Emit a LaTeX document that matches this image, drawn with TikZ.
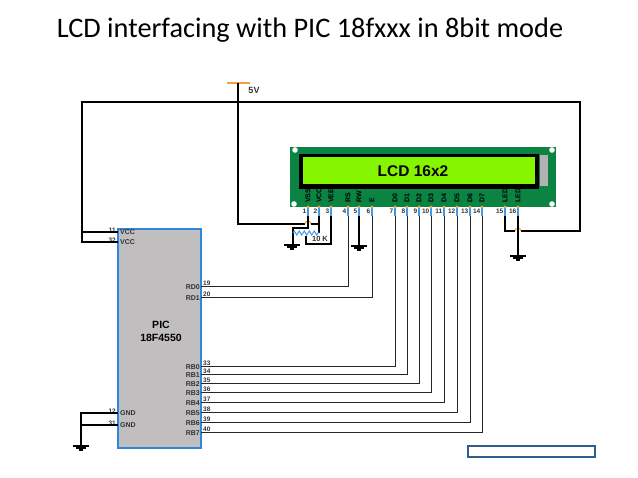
\documentclass[tikz,border=0pt]{standalone}
\usepackage{fontspec}
\setmainfont{Carlito}
\setsansfont{Liberation Sans}
\usepackage{xcolor}
\usetikzlibrary{arrows.meta,positioning,calc,shapes,decorations.pathmorphing}
\definecolor{boardgreen}{HTML}{0B8443}
\definecolor{lcdlime}{HTML}{86F500}
\definecolor{pinblue}{HTML}{3E9BE8}
\definecolor{hoporange}{HTML}{F0A040}
\definecolor{chipgrey}{HTML}{C0BEBE}
\definecolor{chipblue}{HTML}{2F86DC}
\definecolor{notebox}{HTML}{2F5F8F}
\newcommand{\lcdpin}[4]{%
  \coordinate (#1top) at (#2,207);
  \coordinate (#1) at (#2,216);
  \node[pinname,text=black,rotate=90,anchor=west] (#1name) at (#2,203) {#3};
  \node[pinnum,anchor=east] (#1num) at (#2-1.5,211) {#4};
  \draw[stub] (#1top) -- (#1);
  \fill[hoporange] (#1top) circle (1.6);
}
\newcommand{\leftpin}[4]{%
  \coordinate (#1) at (118,#2);
  \node[pinname,anchor=west] (#1name) at (120,#2+0.5) {#3};
  \node[pinnum,anchor=south east] (#1num) at (116,#2+1) {#4};
}
\newcommand{\rightpin}[4]{%
  \coordinate (#1) at (201,#2);
  \node[pinname,anchor=east] (#1name) at (200,#2+1) {#3};
  \node[pinnum,anchor=south west] (#1num) at (203,#2-0.5) {#4};
}
\newcommand{\gnd}[3]{%
  \coordinate (#1) at (#2,#3);
  \draw[wire] (#2-8,#3) -- (#2+8,#3);
  \draw[wire] (#2-5,#3+2) -- (#2+5,#3+2);
  \draw[wire] (#2-2,#3+4) -- (#2+2,#3+4);
}

\begin{document}
\begin{tikzpicture}[
    x=1pt, y=-1pt,
    wire/.style={draw=black, line width=1.2pt},
    thinwire/.style={draw=black!85, line width=0.9pt},
    stub/.style={draw=pinblue, line width=1.8pt},
    hop/.style={draw=hoporange, line width=1pt},
    pinname/.style={font=\sffamily\bfseries\fontsize{7}{7}\selectfont, text=black!80, inner sep=0pt},
    pinnum/.style={font=\sffamily\bfseries\fontsize{6.5}{7}\selectfont, text=black!80, inner sep=0pt},
    chiptext/.style={font=\sffamily\bfseries\fontsize{10.5}{13}\selectfont, align=center}
]
\useasboundingbox (0,0) rectangle (638,478);

\node[font=\fontsize{28.3}{32}\selectfont, anchor=center] (title) at (310,30) {LCD interfacing with PIC 18fxxx in 8bit mode};

% lcd module
\node[fill=boardgreen, minimum width=266pt, minimum height=60pt, inner sep=0pt] (board) at (423,177) {};
\node[fill=black, minimum width=240pt, minimum height=35pt, inner sep=0pt] (frame) at (419,171.5) {};
\node[fill=lcdlime, minimum width=232pt, minimum height=27pt, inner sep=0pt] (screen) at (419,171) {};
\node[font=\sffamily\bfseries\fontsize{15.5}{15.5}\selectfont, inner sep=0pt] (lcdname) at (413,171) {LCD 16x2};
\node[fill=black!30, minimum width=8pt, minimum height=31pt, inner sep=0pt] (strip) at (544,171) {};
\fill[white] (295,150) circle (2.8) (552,150) circle (2.8) (294,204) circle (2.8) (552,204) circle (2.8);

\lcdpin{p1}{308}{VSS}{1}
\lcdpin{p2}{319}{VCC}{2}
\lcdpin{p3}{331}{VEE}{3}
\lcdpin{p4}{348}{RS}{4}
\lcdpin{p5}{359}{RW}{5}
\lcdpin{p6}{372}{E}{6}
\lcdpin{p7}{395}{D0}{7}
\lcdpin{p8}{407}{D1}{8}
\lcdpin{p9}{419}{D2}{9}
\lcdpin{p10}{431}{D3}{10}
\lcdpin{p11}{444}{D4}{11}
\lcdpin{p12}{457}{D5}{12}
\lcdpin{p13}{470}{D6}{13}
\lcdpin{p14}{482}{D7}{14}
\lcdpin{p15}{505}{LED+}{15}
\lcdpin{p16}{518}{LED-}{16}

% pic
\node[draw=chipblue, fill=chipgrey, line width=1.4pt, minimum width=83pt, minimum height=219pt, inner sep=0pt] (pic) at (159.5,338.5) {};
\node[chiptext] (picname) at (161,331) {PIC\\18F4550};

\leftpin{vcc1}{232}{VCC}{11}
\leftpin{vcc2}{242}{VCC}{32}
\leftpin{gnd1}{413}{GND}{12}
\leftpin{gnd2}{425}{GND}{31}
\rightpin{rd0}{286}{RD0}{19}
\rightpin{rd1}{297}{RD1}{20}
\rightpin{rb0}{366}{RB0}{33}
\rightpin{rb1}{374}{RB1}{34}
\rightpin{rb2}{383}{RB2}{35}
\rightpin{rb3}{392}{RB3}{36}
\rightpin{rb4}{402}{RB4}{37}
\rightpin{rb5}{412}{RB5}{38}
\rightpin{rb6}{422}{RB6}{39}
\rightpin{rb7}{432}{RB7}{40}

% supply
\coordinate (barl) at (227,83);
\coordinate (barr) at (250,83);
\coordinate (vdd) at (238,83);
\node[pinname, font=\sffamily\bfseries\fontsize{9}{9}\selectfont] (fivev) at (254,90) {5V};
\draw[hop, line width=1.2pt] (barl) -- (barr);
\coordinate (vddc) at (238,224);
\coordinate (hopal) at (305,224);
\coordinate (hopar) at (311,224);
\coordinate (vddr) at (319,224);
\draw[wire] (vdd) -- (vddc) -- (hopal);
\draw[hop] (hopal) arc (180:360:3);
\draw[wire] (hopar) -- (vddr);

% backlight loop
\coordinate (topl) at (82,102);
\coordinate (topr) at (580,102);
\coordinate (hopbl) at (515,231);
\coordinate (hopbr) at (521,231);
\draw[wire] (vcc2) -| (topl) -- (topr) |- (hopbr);
\draw[wire] (vcc1) -- (vcc1 -| topl);
\draw[hop] (hopbl) arc (180:360:3);
\draw[wire] (p15) |- (hopbl);

% grounds
\gnd{gpot}{292}{245}
\gnd{grw}{359}{246}
\gnd{gled}{518}{256}
\gnd{gpic}{81}{446}
\draw[wire] (p16) -- (gled);
\draw[wire] (p5) -- (grw);
\draw[wire] (gnd1) -| (gpic);
\draw[wire] (gnd2) -- (gnd2 -| gpic);

% contrast pot
\coordinate (potl) at (293,233);
\coordinate (potr) at (319,233);
\coordinate (potw) at (306,236);
\coordinate (potb) at (306,244);
\coordinate (potc) at (293,228);
\node[pinname, font=\sffamily\bfseries\fontsize{7.5}{8}\selectfont] (potval) at (320,238.5) {10 K};
\draw[wire] (p1) |- (potc) -- (gpot -| potc);
\draw[wire] (p2) -- (potr);
\draw[draw=pinblue, line width=1pt, decorate, decoration={zigzag, segment length=5pt, amplitude=2pt}] (potl) -- (potr);
\draw[wire] (potw) -- (potb) -| (p3);

% data lines
\draw[thinwire] (p4) |- (rd0);
\draw[thinwire] (p6) |- (rd1);
\draw[thinwire] (p7) |- (rb0);
\draw[thinwire] (p8) |- (rb1);
\draw[thinwire] (p9) |- (rb2);
\draw[thinwire] (p10) |- (rb3);
\draw[thinwire] (p11) |- (rb4);
\draw[thinwire] (p12) |- (rb5);
\draw[thinwire] (p13) |- (rb6);
\draw[thinwire] (p14) |- (rb7);

\node[draw=notebox, fill=white, line width=1.1pt, minimum width=127pt, minimum height=11pt, inner sep=0pt] (note) at (531.5,451.5) {};
\end{tikzpicture}
\end{document}
